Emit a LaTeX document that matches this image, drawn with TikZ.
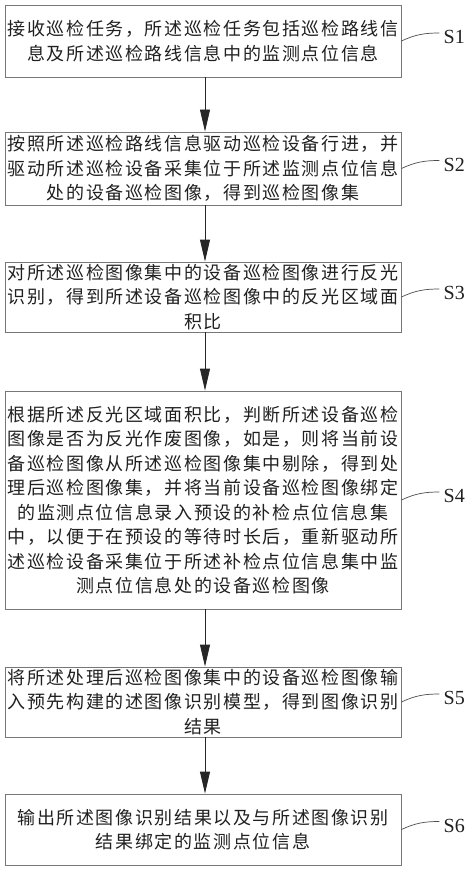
\documentclass[tikz,border=0pt]{standalone}
\usepackage{fontspec}
\usetikzlibrary{arrows.meta}
\newfontfamily\cjk[LetterSpace=9]{Noto Sans CJK SC}
\newfontfamily\lbl{Liberation Serif}
\definecolor{boxgray}{HTML}{777777}
\definecolor{txt}{HTML}{202020}
\begin{document}
\begin{tikzpicture}[x=1pt,y=-1pt,
  stepbox/.style={draw=boxgray,line width=0.9pt,rectangle,minimum width=396pt,inner sep=0pt,
    align=center,text=txt,font=\cjk\fontsize{18}{24.5}\selectfont},
  arr/.style={draw=black!85,line width=0.9pt,-{Triangle[length=22pt,width=10pt]}},
  lead/.style={draw=black!70,line width=0.7pt},
  lab/.style={anchor=west,inner sep=0pt,text=txt,font=\lbl\fontsize{20}{20}\selectfont}]
\useasboundingbox (0,0) rectangle (474,872);
\node[stepbox,minimum height=72pt] (b1) at (203,41) {接收巡检任务，所述巡检任务包括巡检路线信\\息及所述巡检路线信息中的监测点位信息};
\node[stepbox,minimum height=73pt] (b2) at (203,168.5) {按照所述巡检路线信息驱动巡检设备行进，并\\驱动所述巡检设备采集位于所述监测点位信息\\处的设备巡检图像，得到巡检图像集};
\node[stepbox,minimum height=70pt] (b3) at (203,297) {对所述巡检图像集中的设备巡检图像进行反光\\识别，得到所述设备巡检图像中的反光区域面\\积比};
\node[stepbox,minimum height=218pt] (b4) at (203,500) {根据所述反光区域面积比，判断所述设备巡检\\图像是否为反光作废图像，如是，则将当前设\\备巡检图像从所述巡检图像集中剔除，得到处\\理后巡检图像集，并将当前设备巡检图像绑定\\的监测点位信息录入预设的补检点位信息集\\中，以便于在预设的等待时长后，重新驱动所\\述巡检设备采集位于所述补检点位信息集中监\\测点位信息处的设备巡检图像};
\node[stepbox,minimum height=70pt] (b5) at (203,702) {将所述处理后巡检图像集中的设备巡检图像输\\入预先构建的述图像识别模型，得到图像识别\\结果};
\node[stepbox,minimum height=71pt] (b6) at (203,829.5) {输出所述图像识别结果以及与所述图像识别\\结果绑定的监测点位信息};
\foreach \a/\b in {b1/b2,b2/b3,b3/b4,b4/b5,b5/b6}
  \draw[arr] ([xshift=2pt]\a.south) -- ([xshift=2pt]\b.north);
\foreach \n/\s in {b1/S1,b2/S2,b3/S3,b4/S4,b5/S5,b6/S6}{
  \coordinate (\n e) at ([xshift=38pt,yshift=8pt]\n.east);
  \draw[lead] (\n.east) to[out=25,in=180] (\n e);
  \node[lab] (\n l) at ([xshift=42pt,yshift=4pt]\n.east) {\s};
}
\end{tikzpicture}
\end{document}
